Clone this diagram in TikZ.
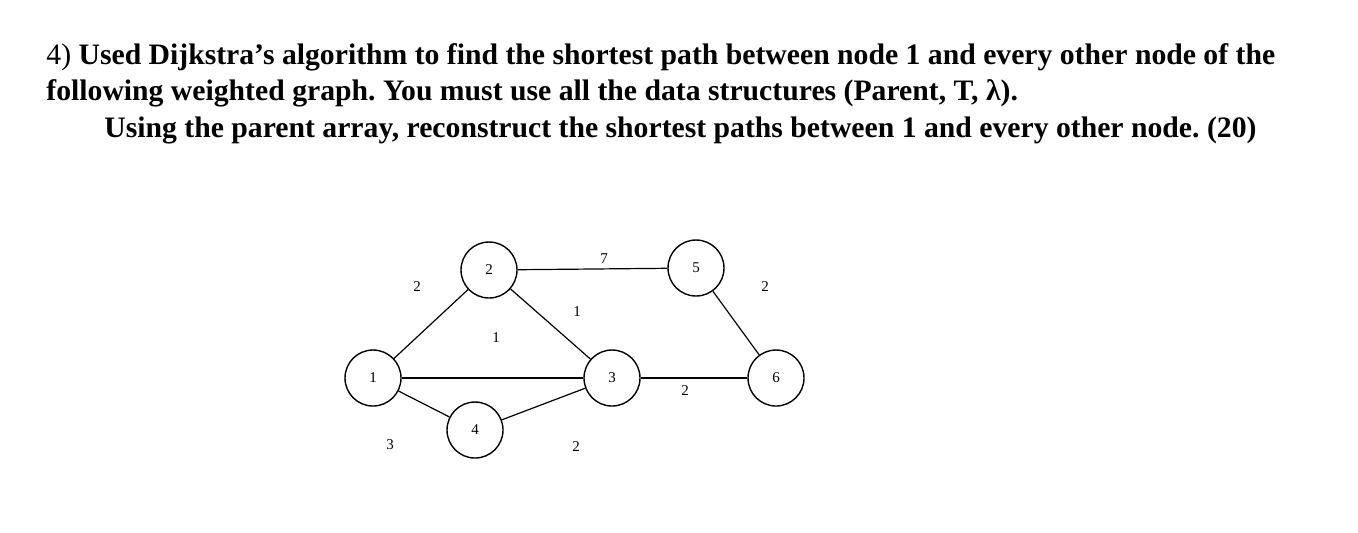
\documentclass[tikz,border=0pt]{standalone}
\usepackage{fontspec}
\setmainfont{Liberation Serif}
\begin{document}
\frenchspacing
\begin{tikzpicture}[x=0.5pt,y=-0.5pt,
  vert/.style={circle,draw,line width=0.7pt,minimum size=28pt,inner sep=0pt,font=\fontsize{7.5}{8}\selectfont},
  wt/.style={font=\fontsize{7.5}{8}\selectfont},
  title/.style={anchor=base west,inner sep=0pt,font=\fontsize{14.85}{16}\selectfont\bfseries},
  edge/.style={line width=0.6pt}]
\useasboundingbox (0,0) rectangle (1358,532);
\node[title] (t1) at (46,64) {\mdseries 4)\bfseries{} Used Dijkstra’s algorithm to find the shortest path between node 1 and every other node of the};
\node[title] (t2) at (46,100) {following weighted graph. You must use all the data structures (Parent, T, λ).};
\node[title] (t3) at (104,137) {Using the parent array, reconstruct the shortest paths between 1 and every other node. (20)};
\node[vert] (n1) at (373,378) {1};
\node[vert] (n2) at (489,270) {2};
\node[vert] (n4) at (475,430) {4};
\node[vert] (n3) at (612,378) {3};
\node[vert] (n5) at (696,268) {5};
\node[vert] (n6) at (776,378) {6};
\draw[edge] (n1)--(n2);
\draw[edge] (n1)--(n3);
\draw[edge] (n1)--(n4);
\draw[edge] (n2)--(n3);
\draw[edge] (n2)--(n5);
\draw[edge] (n3)--(n4);
\draw[edge] (n3)--(n6);
\draw[edge] (n5)--(n6);
\node[wt] (w1) at (417,287) {2};
\node[wt] (w2) at (604,259) {7};
\node[wt] (w3) at (577,312) {1};
\node[wt] (w4) at (496,338) {1};
\node[wt] (w5) at (765,287) {2};
\node[wt] (w6) at (685,391) {2};
\node[wt] (w7) at (390,445) {3};
\node[wt] (w8) at (576,447) {2};
\end{tikzpicture}
\end{document}
